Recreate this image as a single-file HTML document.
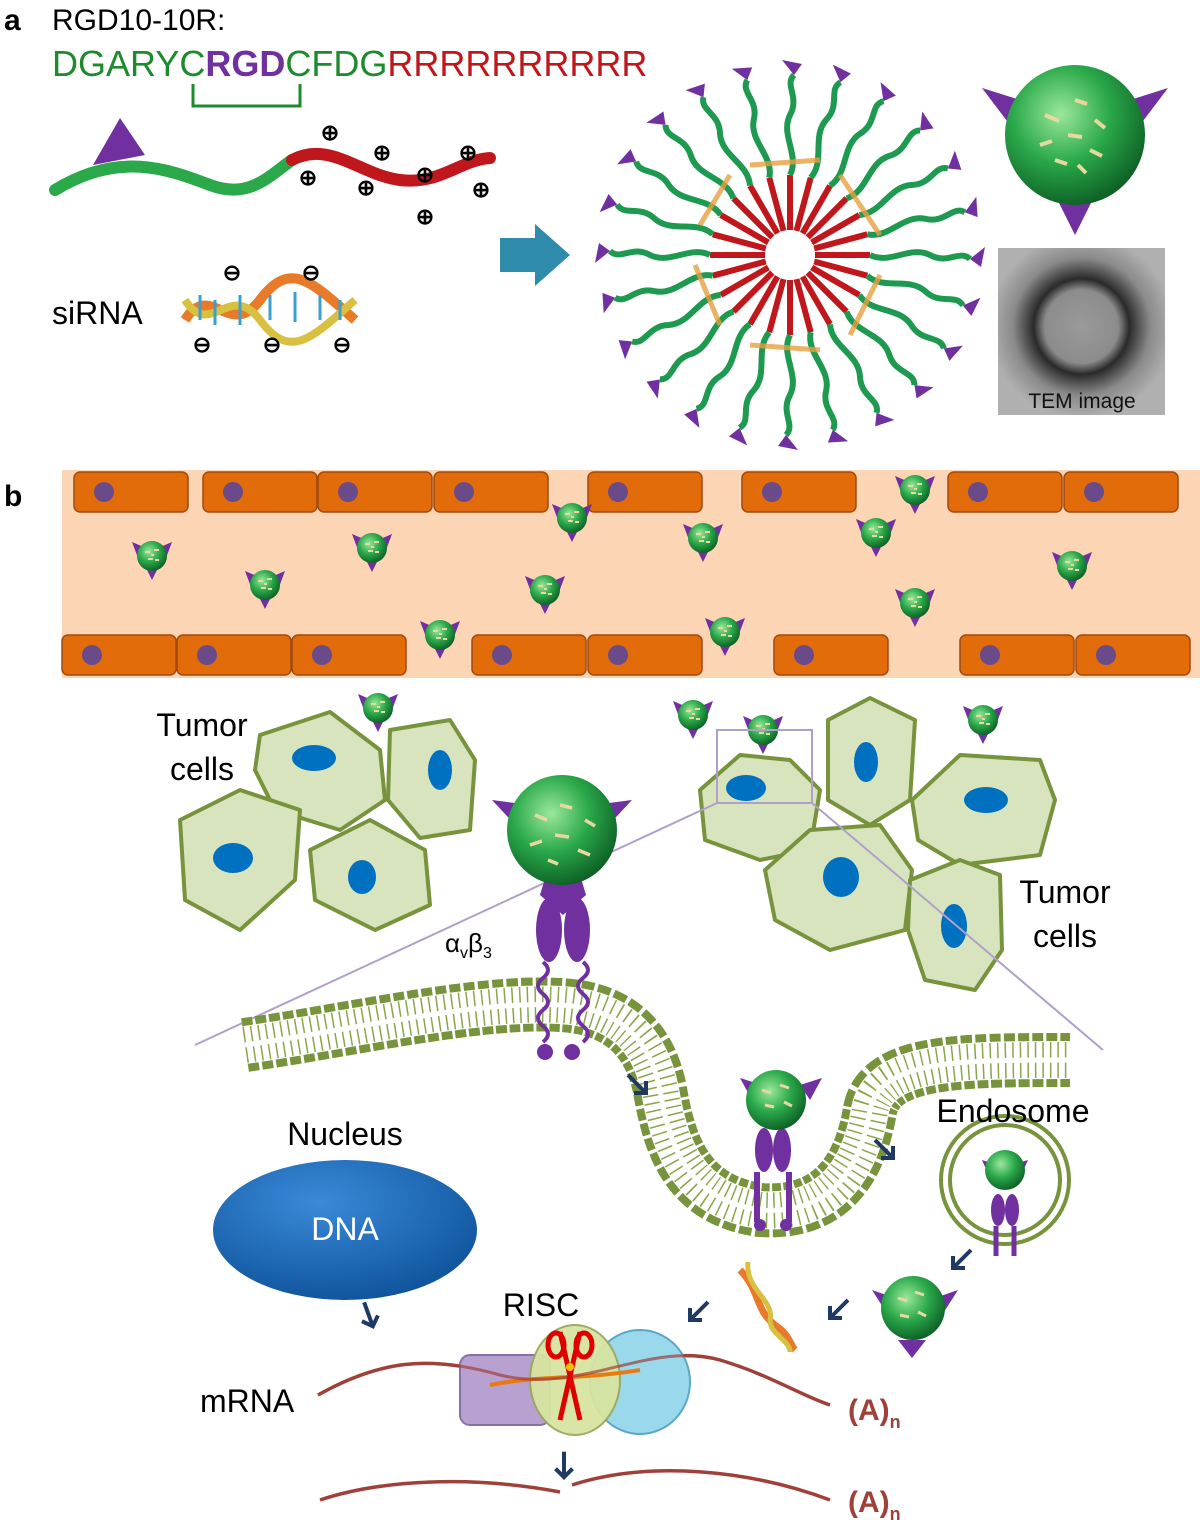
<!DOCTYPE html>
<html><head><meta charset="utf-8"><style>
body{margin:0;background:#fff}
svg{display:block;font-family:"Liberation Sans",sans-serif}
</style></head><body>
<svg width="1200" height="1524" viewBox="0 0 1200 1524" xmlns="http://www.w3.org/2000/svg">
<defs>
<radialGradient id="gs" cx="0.4" cy="0.35" r="0.7"><stop offset="0" stop-color="#9be89b"/><stop offset="0.5" stop-color="#2aa84a"/><stop offset="1" stop-color="#0b5a22"/></radialGradient>
<radialGradient id="tem" cx="0.5" cy="0.47" r="0.55"><stop offset="0" stop-color="#9a9a9a"/><stop offset="0.4" stop-color="#8c8c8c"/><stop offset="0.52" stop-color="#2a2a2a"/><stop offset="0.75" stop-color="#8a8a8a"/><stop offset="1" stop-color="#b0b0b0"/></radialGradient>
<radialGradient id="nuc" cx="0.4" cy="0.3" r="0.8"><stop offset="0" stop-color="#3a8ad8"/><stop offset="1" stop-color="#0b4e96"/></radialGradient>
<g id="np">
<polygon points="-20,-14 -6,-8 -14,2" fill="#7030a0"/><polygon points="20,-14 6,-8 14,2" fill="#7030a0"/><polygon points="-6,12 6,12 0,24" fill="#7030a0"/>
<circle r="15" fill="url(#gs)"/>
<path d="M-7,-4 h5 M2,-6 h5 M-4,3 h5 M3,4 h4 M-1,-1 h3" stroke="#e8d8a0" stroke-width="2"/>
</g>
<g id="arm">
<path d="M0,-25 L0,-80" stroke="#c0171c" stroke-width="6" fill="none"/>
<path d="M0,-80 C10,-100 -10,-120 0,-140 C10,-158 -6,-170 4,-180" stroke="#1e9a50" stroke-width="6" fill="none"/>
<polygon points="4,-180 -8,-195 12,-191" fill="#7030a0"/>
</g>
<g id="arrow"><path d="M0,0 L16,16" stroke="#1f3864" stroke-width="4"/><path d="M6,18 L18,18 L18,6" stroke="#1f3864" stroke-width="4" fill="none"/></g>
</defs>

<!-- part a -->
<text x="4" y="30" font-size="30" font-weight="bold">a</text>
<text x="52" y="30" font-size="30">RGD10-10R:</text>
<text x="52" y="76" font-size="36"><tspan fill="#1e8a2e">DGARYC</tspan><tspan fill="#7030a0" font-weight="bold">RGD</tspan><tspan fill="#1e8a2e">CFDG</tspan><tspan fill="#c0171c">RRRRRRRRRR</tspan></text>
<path d="M193,84 V106 H300 V84" stroke="#1e8a2e" stroke-width="3" fill="none"/>
<path d="M55,190 C120,150 170,170 210,185 C250,200 270,175 292,160" stroke="#2aa84a" stroke-width="12" fill="none" stroke-linecap="round"/>
<path d="M292,160 C330,140 360,175 400,180 C440,185 460,160 490,158" stroke="#c0171c" stroke-width="12" fill="none" stroke-linecap="round"/>
<polygon points="93,165 120,118 145,155" fill="#7030a0"/>
<g font-size="22" font-weight="bold" text-anchor="middle">
<text x="330" y="140">⊕</text><text x="382" y="160">⊕</text><text x="468" y="160">⊕</text><text x="308" y="185">⊕</text><text x="425" y="182">⊕</text><text x="366" y="195">⊕</text><text x="481" y="197">⊕</text><text x="425" y="224">⊕</text>
</g>
<text x="52" y="324" font-size="32">siRNA</text>
<path d="M185,320 C210,280 230,340 260,300 S310,280 355,320" stroke="#e87a2a" stroke-width="10" fill="none"/>
<path d="M185,300 C210,340 230,280 260,320 S310,340 355,300" stroke="#d8c040" stroke-width="8" fill="none"/>
<path d="M200,295 v25 M215,300 v25 M240,295 v30 M270,295 v25 M295,292 v30 M320,295 v25 M340,300 v20" stroke="#3aa0d0" stroke-width="3"/>
<g font-size="22" font-weight="bold" text-anchor="middle"><text x="232" y="280">⊖</text><text x="311" y="280">⊖</text><text x="202" y="352">⊖</text><text x="272" y="352">⊖</text><text x="342" y="352">⊖</text></g>
<polygon points="500,238 535,238 535,224 570,255 535,286 535,272 500,272" fill="#2e8bab"/>

<g transform="translate(790,255)">
<use href="#arm" transform="rotate(0)"/><use href="#arm" transform="rotate(15)"/><use href="#arm" transform="rotate(30)"/><use href="#arm" transform="rotate(45)"/><use href="#arm" transform="rotate(60)"/><use href="#arm" transform="rotate(75)"/><use href="#arm" transform="rotate(90)"/><use href="#arm" transform="rotate(105)"/><use href="#arm" transform="rotate(120)"/><use href="#arm" transform="rotate(135)"/><use href="#arm" transform="rotate(150)"/><use href="#arm" transform="rotate(165)"/><use href="#arm" transform="rotate(180)"/><use href="#arm" transform="rotate(195)"/><use href="#arm" transform="rotate(210)"/><use href="#arm" transform="rotate(225)"/><use href="#arm" transform="rotate(240)"/><use href="#arm" transform="rotate(255)"/><use href="#arm" transform="rotate(270)"/><use href="#arm" transform="rotate(285)"/><use href="#arm" transform="rotate(300)"/><use href="#arm" transform="rotate(315)"/><use href="#arm" transform="rotate(330)"/><use href="#arm" transform="rotate(345)"/>
<g stroke="#e8a040" stroke-width="5" fill="none" opacity="0.8">
<path d="M-90,-30 L-60,-80"/><path d="M-40,-90 L30,-95"/><path d="M50,-80 L90,-20"/><path d="M90,20 L60,80"/><path d="M30,95 L-40,90"/><path d="M-70,70 L-95,10"/>
</g>
</g>

<polygon points="982,88 1020,100 1010,125" fill="#7030a0"/><polygon points="1168,88 1130,100 1140,125" fill="#7030a0"/><polygon points="1055,195 1095,195 1075,235" fill="#7030a0"/>
<circle cx="1075" cy="135" r="70" fill="url(#gs)"/>
<g stroke="#e8d8a0" stroke-width="4"><path d="M1045,115 l14,6 M1075,100 l12,4 M1095,120 l10,8 M1040,145 l12,-4 M1068,135 l14,2 M1090,150 l12,6 M1055,160 l12,4 M1078,165 l8,8"/></g>
<rect x="998" y="248" width="167" height="167" fill="url(#tem)"/>
<text x="1082" y="408" font-size="21" text-anchor="middle" fill="#111">TEM image</text>

<!-- part b -->
<text x="4" y="506" font-size="30" font-weight="bold">b</text>
<rect x="62" y="470" width="1138" height="208" fill="#fcd5b4"/>
<g fill="#e36c0a" stroke="#a04a10" stroke-width="1.5">
<rect x="74" y="472" width="114" height="40" rx="6"/><rect x="203" y="472" width="114" height="40" rx="6"/><rect x="318" y="472" width="114" height="40" rx="6"/><rect x="434" y="472" width="114" height="40" rx="6"/><rect x="588" y="472" width="114" height="40" rx="6"/><rect x="742" y="472" width="114" height="40" rx="6"/><rect x="948" y="472" width="114" height="40" rx="6"/><rect x="1064" y="472" width="114" height="40" rx="6"/>
<rect x="62" y="635" width="114" height="40" rx="6"/><rect x="177" y="635" width="114" height="40" rx="6"/><rect x="292" y="635" width="114" height="40" rx="6"/><rect x="472" y="635" width="114" height="40" rx="6"/><rect x="588" y="635" width="114" height="40" rx="6"/><rect x="774" y="635" width="114" height="40" rx="6"/><rect x="960" y="635" width="114" height="40" rx="6"/><rect x="1076" y="635" width="114" height="40" rx="6"/>
</g>
<g fill="#6b4a8a">
<circle cx="104" cy="492" r="10"/><circle cx="233" cy="492" r="10"/><circle cx="348" cy="492" r="10"/><circle cx="464" cy="492" r="10"/><circle cx="618" cy="492" r="10"/><circle cx="772" cy="492" r="10"/><circle cx="978" cy="492" r="10"/><circle cx="1094" cy="492" r="10"/>
<circle cx="92" cy="655" r="10"/><circle cx="207" cy="655" r="10"/><circle cx="322" cy="655" r="10"/><circle cx="502" cy="655" r="10"/><circle cx="618" cy="655" r="10"/><circle cx="804" cy="655" r="10"/><circle cx="990" cy="655" r="10"/><circle cx="1106" cy="655" r="10"/>
</g>
<use href="#np" x="152" y="556"/><use href="#np" x="265" y="585"/><use href="#np" x="372" y="548"/><use href="#np" x="440" y="635"/><use href="#np" x="545" y="590"/><use href="#np" x="572" y="518"/><use href="#np" x="703" y="538"/><use href="#np" x="725" y="632"/><use href="#np" x="876" y="533"/><use href="#np" x="915" y="490"/><use href="#np" x="915" y="603"/><use href="#np" x="1072" y="566"/>
<use href="#np" x="378" y="708"/><use href="#np" x="693" y="715"/><use href="#np" x="763" y="730"/><use href="#np" x="983" y="720"/>

<g fill="#d7e4bd" stroke="#77933c" stroke-width="4" stroke-linejoin="round">
<path d="M260,735 L330,712 L380,750 L385,800 L340,830 L275,810 L255,770Z"/>
<path d="M390,730 L450,720 L475,760 L470,830 L420,838 L388,800Z"/>
<path d="M180,820 L240,790 L300,810 L295,880 L240,930 L185,900Z"/>
<path d="M310,850 L370,820 L425,850 L430,905 L375,930 L315,900Z"/>
<path d="M700,790 L740,755 L790,760 L820,790 L810,850 L760,860 L705,840Z"/>
<path d="M828,720 L870,698 L915,720 L910,800 L870,825 L828,800Z"/>
<path d="M912,800 L960,755 L1040,760 L1055,800 L1040,855 L960,865 L918,840Z"/>
<path d="M765,870 L810,830 L880,825 L912,870 L905,930 L830,950 L775,920Z"/>
<path d="M910,880 L960,860 L1000,875 L1002,950 L975,990 L925,980 L908,930Z"/>
</g>
<g fill="#0070c0">
<ellipse cx="314" cy="758" rx="22" ry="13"/><ellipse cx="440" cy="770" rx="12" ry="20"/><ellipse cx="233" cy="858" rx="20" ry="15"/><ellipse cx="362" cy="877" rx="14" ry="17"/>
<ellipse cx="746" cy="788" rx="20" ry="13"/><ellipse cx="866" cy="762" rx="12" ry="20"/><ellipse cx="986" cy="800" rx="22" ry="13"/><ellipse cx="841" cy="877" rx="18" ry="20"/><ellipse cx="954" cy="926" rx="13" ry="22"/>
</g>
<text x="202" y="736" font-size="32" text-anchor="middle">Tumor</text><text x="202" y="780" font-size="32" text-anchor="middle">cells</text>
<text x="1065" y="903" font-size="32" text-anchor="middle">Tumor</text><text x="1065" y="947" font-size="32" text-anchor="middle">cells</text>
<rect x="717" y="730" width="95" height="73" fill="none" stroke="#b0a0c8" stroke-width="2"/>
<path d="M717,803 L195,1045 M812,803 L1103,1050" stroke="#b0a0c8" stroke-width="2"/>

<!-- membrane -->
<g fill="none">
<path d="M245,1045 C350,1030 480,1000 560,1005 C620,1008 650,1040 660,1090 C670,1150 690,1200 760,1210 C830,1215 860,1170 870,1110 C880,1060 960,1060 1070,1060" stroke="#77933c" stroke-width="54" stroke-dasharray="11 3"/>
<path d="M245,1045 C350,1030 480,1000 560,1005 C620,1008 650,1040 660,1090 C670,1150 690,1200 760,1210 C830,1215 860,1170 870,1110 C880,1060 960,1060 1070,1060" stroke="#fff" stroke-width="38"/>
<path d="M245,1045 C350,1030 480,1000 560,1005 C620,1008 650,1040 660,1090 C670,1150 690,1200 760,1210 C830,1215 860,1170 870,1110 C880,1060 960,1060 1070,1060" stroke="#8aa64a" stroke-width="36" stroke-dasharray="1.5 6"/>
<path d="M245,1045 C350,1030 480,1000 560,1005 C620,1008 650,1040 660,1090 C670,1150 690,1200 760,1210 C830,1215 860,1170 870,1110 C880,1060 960,1060 1070,1060" stroke="#fff" stroke-width="5"/>
</g>

<!-- integrin + big particle -->
<g fill="#7030a0">
<ellipse cx="549" cy="930" rx="13" ry="32"/><ellipse cx="577" cy="930" rx="13" ry="32"/>
<path d="M540,895 L563,915 L586,895 L580,875 L546,875Z"/>
<path d="M543,962 q10,8 0,16 q-10,8 0,16 q10,8 0,16 q-10,8 0,16 q10,8 0,16 M583,962 q10,8 0,16 q-10,8 0,16 q10,8 0,16 q-10,8 0,16 q10,8 0,16" stroke="#7030a0" stroke-width="4" fill="none"/>
<circle cx="545" cy="1052" r="8"/><circle cx="572" cy="1052" r="8"/>
</g>
<polygon points="492,800 530,805 520,830" fill="#7030a0"/><polygon points="632,800 594,805 604,830" fill="#7030a0"/>
<circle cx="562" cy="830" r="55" fill="url(#gs)"/>
<g stroke="#e8d8a0" stroke-width="3.5"><path d="M535,815 l12,5 M560,805 l12,3 M585,820 l10,6 M530,845 l12,-4 M555,835 l14,2 M578,850 l12,5 M548,860 l10,4"/></g>
<text x="445" y="952" font-size="26">α<tspan font-size="16" dy="6">v</tspan><tspan dy="-6">β</tspan><tspan font-size="16" dy="6">3</tspan></text>

<!-- invaginated particle -->
<g fill="#7030a0"><ellipse cx="764" cy="1150" rx="9" ry="22"/><ellipse cx="782" cy="1150" rx="9" ry="22"/>
<path d="M757,1172 v50 M789,1172 v50" stroke="#7030a0" stroke-width="6"/><circle cx="760" cy="1225" r="6"/><circle cx="786" cy="1225" r="6"/></g>
<polygon points="740,1078 762,1085 752,1100" fill="#7030a0"/><polygon points="822,1078 800,1085 810,1100" fill="#7030a0"/>
<circle cx="776" cy="1100" r="30" fill="url(#gs)"/>
<g stroke="#e8d8a0" stroke-width="3"><path d="M762,1090 l9,3 M780,1085 l9,3 M765,1105 l9,2 M784,1102 l8,4"/></g>
<use href="#arrow" x="628" y="1075"/>
<use href="#arrow" x="875" y="1140"/>

<!-- endosome -->
<circle cx="1005" cy="1180" r="64" fill="none" stroke="#77933c" stroke-width="4"/>
<circle cx="1005" cy="1180" r="55" fill="none" stroke="#77933c" stroke-width="4"/>
<g fill="#7030a0"><ellipse cx="998" cy="1210" rx="7" ry="16"/><ellipse cx="1012" cy="1210" rx="7" ry="16"/><path d="M996,1226 v30 M1014,1226 v30" stroke="#7030a0" stroke-width="5"/></g>
<polygon points="982,1160 998,1165 990,1178" fill="#7030a0"/><polygon points="1028,1160 1012,1165 1020,1178" fill="#7030a0"/>
<circle cx="1005" cy="1170" r="20" fill="url(#gs)"/>
<text x="1013" y="1122" font-size="32" text-anchor="middle">Endosome</text>
<use href="#arrow" x="955" y="1250" transform="rotate(90 963 1258)"/>

<!-- released particle -->
<polygon points="872,1290 895,1298 888,1315" fill="#7030a0"/><polygon points="958,1290 935,1298 942,1315" fill="#7030a0"/><polygon points="898,1340 926,1340 912,1358" fill="#7030a0"/>
<circle cx="913" cy="1308" r="32" fill="url(#gs)"/>
<g stroke="#e8d8a0" stroke-width="3"><path d="M898,1298 l9,3 M915,1292 l9,3 M900,1315 l9,2 M918,1312 l8,4"/></g>
<use href="#arrow" x="832" y="1300" transform="rotate(90 840 1308)"/>
<path d="M740,1270 C760,1290 755,1310 775,1325 C790,1335 790,1345 795,1350" stroke="#e87a2a" stroke-width="7" fill="none"/>
<path d="M748,1262 C745,1290 775,1300 770,1320 C770,1335 790,1340 790,1352" stroke="#d8c040" stroke-width="5" fill="none"/>
<use href="#arrow" x="692" y="1302" transform="rotate(90 700 1310)"/>

<!-- nucleus -->
<text x="345" y="1145" font-size="32" text-anchor="middle">Nucleus</text>
<ellipse cx="345" cy="1230" rx="132" ry="70" fill="url(#nuc)"/>
<text x="345" y="1240" font-size="32" fill="#fff" text-anchor="middle">DNA</text>
<use href="#arrow" x="360" y="1305" transform="rotate(25 368 1313)"/>

<!-- RISC -->
<text x="541" y="1316" font-size="32" text-anchor="middle">RISC</text>
<path d="M318,1395 C380,1360 430,1355 500,1375 C580,1395 650,1340 720,1360 C770,1375 800,1395 830,1405" stroke="#a0403a" stroke-width="3.5" fill="none"/>
<rect x="460" y="1355" width="90" height="70" rx="10" fill="#b8a0d0" stroke="#8870a8" stroke-width="2"/>
<ellipse cx="640" cy="1382" rx="50" ry="52" fill="#9ad8ec" stroke="#5aa8c8" stroke-width="2"/>
<ellipse cx="575" cy="1380" rx="45" ry="55" fill="#d7e4a0" stroke="#98a860" stroke-width="2" opacity="0.95"/>
<path d="M490,1385 C540,1375 580,1380 640,1370" stroke="#e87a10" stroke-width="4" fill="none"/>
<path d="M318,1395 C380,1360 430,1355 500,1375 C580,1395 650,1340 720,1360" stroke="#a0403a" stroke-width="3" fill="none" opacity="0.7"/>
<g stroke="#e00000" stroke-width="5" fill="none"><path d="M560,1332 L580,1420"/><path d="M580,1332 L560,1420"/><ellipse cx="556" cy="1345" rx="8" ry="12"/><ellipse cx="584" cy="1345" rx="8" ry="12"/></g>
<circle cx="570" cy="1367" r="4" fill="#f0c000"/>
<text x="200" y="1412" font-size="32">mRNA</text>
<text x="848" y="1420" font-size="30" font-weight="bold" fill="#a0403a">(A)<tspan font-size="18" dy="8">n</tspan></text>
<use href="#arrow" x="556" y="1455" transform="rotate(45 564 1463)"/>
<path d="M320,1500 C380,1480 470,1475 560,1492" stroke="#a0403a" stroke-width="3.5" fill="none"/>
<path d="M572,1485 C650,1460 750,1470 830,1500" stroke="#a0403a" stroke-width="3.5" fill="none"/>
<text x="848" y="1512" font-size="30" font-weight="bold" fill="#a0403a">(A)<tspan font-size="18" dy="8">n</tspan></text>
</svg>
</body></html>
